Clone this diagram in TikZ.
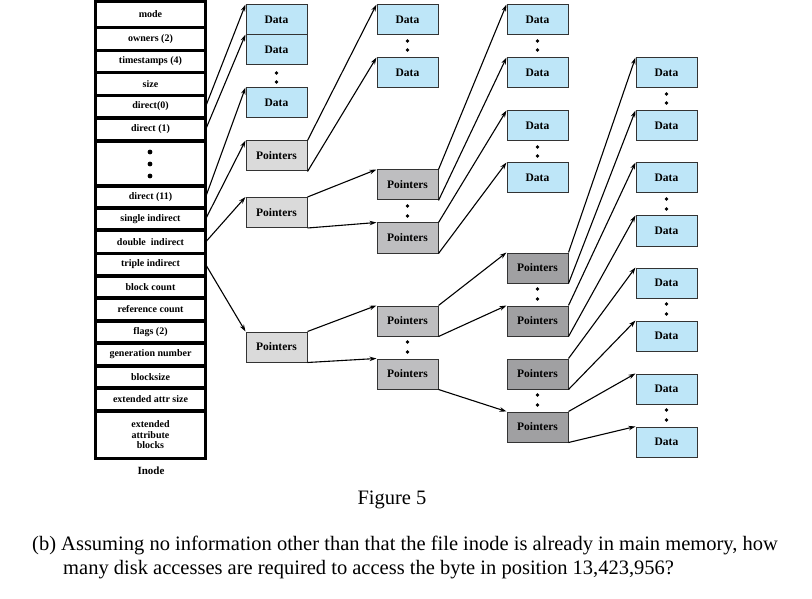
\documentclass[tikz,border=0pt]{standalone}
\usepackage{fontspec}
\setmainfont{Liberation Serif}
\usetikzlibrary{arrows.meta}
\definecolor{dblue}{RGB}{190,230,248}
\definecolor{p1}{RGB}{218,218,218}
\definecolor{p2}{RGB}{190,190,192}
\definecolor{p3}{RGB}{160,160,162}
\begin{document}
\begin{tikzpicture}[x=1pt,y=-1pt,
  box/.style={draw=black!80,line width=1pt,minimum width=61pt,minimum height=30pt,inner sep=0pt,font=\bfseries\fontsize{11.5}{12}\selectfont},
  data/.style={box,fill=dblue},
  ptr/.style={box,fill=p1},
  ptrb/.style={box,fill=p2},
  ptrc/.style={box,fill=p3},
  row/.style={draw,line width=1.3pt,minimum width=109pt,inner sep=0pt,font=\bfseries\fontsize{10}{10.5}\selectfont,align=center},
  arr/.style={-{Stealth[length=7pt,width=4.5pt]},line width=1.1pt},
  dot/.style={fill,circle,inner sep=1.4pt}]
\useasboundingbox (0,0) rectangle (812,599);
% inode
\draw[line width=2.2pt] (95,1) rectangle (206,459);
\foreach \n/\a/\b/\t in {r0/2/27/mode,r1/28/50/owners (2),r2/51/72/timestamps (4),r3/73/95/size,r4/96/117/direct(0),r5/119/140/direct (1),r6/142/185/{},r7/187/207/direct (11),r8/209/229/single indirect,r9/231/253/double\ \ indirect,r10/254/275/triple indirect,r11/277/297/block count,r12/299/320/reference count,r13/322/342/flags (2),r14/344/365/generation number,r15/367/387/blocksize,r16/389/410/extended attr size,r17/412/458/{extended\\attribute\\blocks}}
  \node[row,minimum height={\b-\a}] (\n) at (150.5,{(\a+\b)/2}) {\t};
\foreach \y in {152,164,176} \node[dot,inner sep=1.7pt] (id\y) at (150,\y) {};
\node[font=\bfseries\fontsize{11}{12}\selectfont] (inl) at (151,471) {Inode};
% column 1
\node[data] (a1) at (276.5,20) {Data};
\node[data] (a2) at (276.5,50) {Data};
\node[data] (a3) at (276.5,103) {Data};
\node[ptr] (ap1) at (276.5,156) {Pointers};
\node[ptr] (ap2) at (276.5,212.5) {Pointers};
\node[ptr] (ap3) at (276.5,347) {Pointers};
% column 2
\node[data] (b1) at (407.5,20) {Data};
\node[data] (b2) at (407.5,73) {Data};
\node[ptrb] (bp1) at (407.5,185) {Pointers};
\node[ptrb] (bp2) at (407.5,238) {Pointers};
\node[ptrb] (bp3) at (407.5,321) {Pointers};
\node[ptrb] (bp4) at (407.5,374) {Pointers};
% column 3
\node[data] (c1) at (537.5,20) {Data};
\node[data] (c2) at (537.5,73) {Data};
\node[data] (c3) at (537.5,126) {Data};
\node[data] (c4) at (537.5,178) {Data};
\node[ptrc] (cp1) at (537.5,268) {Pointers};
\node[ptrc] (cp2) at (537.5,321) {Pointers};
\node[ptrc] (cp3) at (537.5,374) {Pointers};
\node[ptrc] (cp4) at (537.5,427) {Pointers};
% column 4
\node[data] (d1) at (666.5,73) {Data};
\node[data] (d2) at (666.5,126) {Data};
\node[data] (d3) at (666.5,178) {Data};
\node[data] (d4) at (666.5,231) {Data};
\node[data] (d5) at (666.5,283) {Data};
\node[data] (d6) at (666.5,336) {Data};
\node[data] (d7) at (666.5,389) {Data};
\node[data] (d8) at (666.5,442) {Data};
% vertical dots
\foreach \x/\y in {276.5/73,276.5/82,407.5/41,407.5/50,407.5/206,407.5/216,407.5/342,407.5/352,537.5/41,537.5/50,537.5/147,537.5/156,537.5/289,537.5/299,537.5/395,537.5/405,666.5/94,666.5/103,666.5/199,666.5/209,666.5/304,666.5/314,666.5/410,666.5/420}
  \node[dot] at (\x,\y) {};
% arrows from inode
\draw[arr] (r4.east) -- (a1.north west);
\draw[arr] (r5.east) -- (a2.north west);
\draw[arr] (r7.east) -- (a3.north west);
\draw[arr] (r8.east) -- (ap1.north west);
\draw[arr] (r9.east) -- (ap2.north west);
\draw[arr] (r10.east) -- (ap3.north west);
% level arrows
\foreach \s/\t/\u in {ap1/b1/b2,ap2/bp1/bp2,ap3/bp3/bp4,bp1/c1/c2,bp2/c3/c4,bp3/cp1/cp2,cp1/d1/d2,cp2/d3/d4,cp3/d5/d6,cp4/d7/d8}{
  \draw[arr] (\s.north east) -- (\t.north west);
  \draw[arr] (\s.south east) -- (\u.north west);}
\draw[arr] (bp4.south east) -- (cp4.north west);
% caption & question
\node[font=\fontsize{20.5}{22}\selectfont] (fig) at (392,500) {Figure 5};
\node[anchor=north west,align=left,font=\fontsize{20.5}{24}\selectfont,inner sep=0pt] (q) at (32,536)
 {(b) Assuming no information other than that the file inode is already in main memory, how\\\hspace*{31pt}many disk accesses are required to access the byte in position 13,423,956?};
\end{tikzpicture}
\end{document}
